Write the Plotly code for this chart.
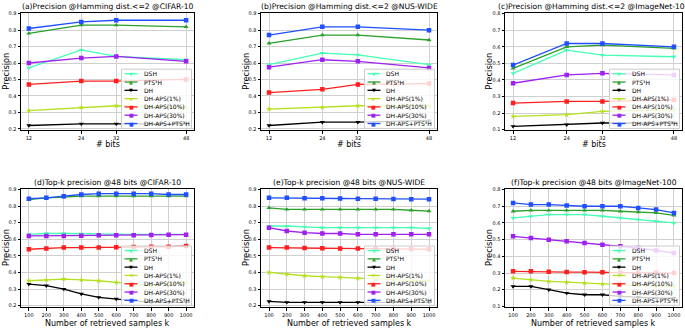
import plotly.graph_objects as go

series_names = ["DSH", "PTS³H", "DH", "DH-APS(1%)", "DH-APS(10%)", "DH-APS(30%)", "DH-APS+PTS³H"]
bits = [12, 24, 32, 48]
topk = [100, 200, 300, 400, 500, 600, 700, 800, 900, 1000]

# (a) CIFAR-10, Hamming dist <= 2
a_dsh = [0.57, 0.68, 0.64, 0.62]
a_pts = [0.78, 0.83, 0.83, 0.82]
a_dh = [0.22, 0.23, 0.23, 0.23]
a_aps1 = [0.31, 0.33, 0.34, 0.33]
a_aps10 = [0.47, 0.49, 0.49, 0.50]
a_aps30 = [0.60, 0.63, 0.64, 0.61]
a_apspts = [0.81, 0.85, 0.86, 0.86]

# (b) NUS-WIDE
b_dsh = [0.59, 0.66, 0.65, 0.59]
b_pts = [0.72, 0.77, 0.77, 0.74]
b_dh = [0.22, 0.24, 0.24, 0.25]
b_aps1 = [0.32, 0.33, 0.34, 0.34]
b_aps10 = [0.42, 0.44, 0.47, 0.475]
b_aps30 = [0.575, 0.62, 0.61, 0.57]
b_apspts = [0.77, 0.82, 0.82, 0.80]

# (c) ImageNet-100
c_dsh = [0.44, 0.58, 0.55, 0.54]
c_pts = [0.47, 0.60, 0.61, 0.59]
c_dh = [0.12, 0.13, 0.14, 0.14]
c_aps1 = [0.18, 0.19, 0.21, 0.22]
c_aps10 = [0.26, 0.27, 0.27, 0.28]
c_aps30 = [0.38, 0.43, 0.44, 0.43]
c_apspts = [0.49, 0.62, 0.62, 0.60]

# (d) Top-k CIFAR-10
d_dsh = [0.63, 0.635, 0.635, 0.633, 0.63, 0.63, 0.63, 0.63, 0.63, 0.63]
d_pts = [0.84, 0.85, 0.855, 0.86, 0.86, 0.86, 0.86, 0.86, 0.86, 0.86]
d_dh = [0.33, 0.32, 0.30, 0.27, 0.25, 0.24, 0.23, 0.22, 0.22, 0.22]
d_aps1 = [0.35, 0.355, 0.36, 0.355, 0.35, 0.34, 0.33, 0.32, 0.33, 0.34]
d_aps10 = [0.54, 0.545, 0.55, 0.55, 0.55, 0.552, 0.553, 0.555, 0.555, 0.56]
d_aps30 = [0.62, 0.62, 0.62, 0.622, 0.624, 0.625, 0.625, 0.626, 0.627, 0.628]
d_apspts = [0.845, 0.85, 0.86, 0.87, 0.875, 0.875, 0.875, 0.875, 0.87, 0.87]

# (e) Top-k NUS-WIDE
e_dsh = [0.68, 0.68, 0.675, 0.67, 0.67, 0.67, 0.67, 0.67, 0.67, 0.665]
e_pts = [0.79, 0.78, 0.78, 0.78, 0.78, 0.78, 0.78, 0.78, 0.775, 0.77]
e_dh = [0.225, 0.22, 0.22, 0.22, 0.22, 0.22, 0.22, 0.22, 0.22, 0.22]
e_aps1 = [0.40, 0.39, 0.38, 0.375, 0.37, 0.365, 0.36, 0.355, 0.352, 0.35]
e_aps10 = [0.55, 0.55, 0.548, 0.546, 0.545, 0.545, 0.543, 0.542, 0.541, 0.54]
e_aps30 = [0.67, 0.65, 0.64, 0.635, 0.635, 0.63, 0.63, 0.63, 0.63, 0.63]
e_apspts = [0.85, 0.85, 0.848, 0.847, 0.846, 0.845, 0.844, 0.843, 0.842, 0.842]

# (f) Top-k ImageNet-100
f_dsh = [0.63, 0.64, 0.65, 0.65, 0.65, 0.64, 0.63, 0.62, 0.61, 0.60]
f_pts = [0.67, 0.675, 0.675, 0.675, 0.675, 0.675, 0.67, 0.665, 0.66, 0.645]
f_dh = [0.22, 0.22, 0.20, 0.18, 0.17, 0.17, 0.16, 0.155, 0.15, 0.15]
f_aps1 = [0.27, 0.26, 0.25, 0.245, 0.24, 0.235, 0.23, 0.225, 0.22, 0.22]
f_aps10 = [0.31, 0.31, 0.308, 0.306, 0.305, 0.304, 0.303, 0.302, 0.301, 0.30]
f_aps30 = [0.52, 0.51, 0.50, 0.49, 0.48, 0.47, 0.46, 0.45, 0.435, 0.42]
f_apspts = [0.72, 0.71, 0.71, 0.705, 0.70, 0.70, 0.70, 0.69, 0.68, 0.66]

titles = [
    "(a)Precision @Hamming dist.<=2 @CIFAR-10",
    "(b)Precision @Hamming dist.<=2 @NUS-WIDE",
    "(c)Precision @Hamming dist.<=2 @ImageNet-100",
    "(d)Top-k precision @48 bits @CIFAR-10",
    "(e)Top-k precision @48 bits @NUS-WIDE",
    "(f)Top-k precision @48 bits @ImageNet-100",
]

panels = [
    (bits, [a_dsh, a_pts, a_dh, a_aps1, a_aps10, a_aps30, a_apspts]),
    (bits, [b_dsh, b_pts, b_dh, b_aps1, b_aps10, b_aps30, b_apspts]),
    (bits, [c_dsh, c_pts, c_dh, c_aps1, c_aps10, c_aps30, c_apspts]),
    (topk, [d_dsh, d_pts, d_dh, d_aps1, d_aps10, d_aps30, d_apspts]),
    (topk, [e_dsh, e_pts, e_dh, e_aps1, e_aps10, e_aps30, e_apspts]),
    (topk, [f_dsh, f_pts, f_dh, f_aps1, f_aps10, f_aps30, f_apspts]),
]

colors = ["#44ffb4", "#2ca02c", "#000000", "#b4e01e", "#ff1f1f", "#a020f0", "#1f4fff"]
symbols = ["triangle-down", "triangle-up", "triangle-down", "star", "square", "square", "square"]
glyphs = ["▼", "▲", "▼", "★", "■", "■", "■"]

W, H = 685, 330
col_x = [(21, 194), (261, 437), (505, 682)]
row_y = [(11, 130), (189, 309)]
ylab_x = [6, 246, 489]
xlab_y = [144, 325]
FONT = "DejaVu Sans"


def px(x):
    return x / W


def py(y):
    return 1 - y / H


fig = go.Figure()
layout = dict(
    width=W, height=H, margin=dict(l=0, r=0, t=0, b=0),
    paper_bgcolor="white", plot_bgcolor="white",
    font=dict(family=FONT, color="black"),
    showlegend=False,
)
annotations = []
shapes = []

for i, (xs, ys_list) in enumerate(panels):
    r, c = divmod(i, 3)
    x0, x1 = col_x[c]
    y0, y1 = row_y[r]
    ax = "" if i == 0 else str(i + 1)
    for k, ys in enumerate(ys_list):
        fig.add_trace(go.Scatter(
            x=xs, y=ys, mode="lines+markers", name=series_names[k],
            line=dict(color=colors[k], width=1.3),
            marker=dict(symbol=symbols[k], size=4.5, color=colors[k]),
            xaxis="x" + ax, yaxis="y" + ax,
        ))
    if r == 0:
        xr = [10.2, 49.8]
        tv = bits
        xlabel = "# bits"
    else:
        xr = [55, 1045]
        tv = topk
        xlabel = "Number of retrieved samples k"
    if c == 2:
        yr = [0.095, 0.805]
        ytv = [0.1, 0.2, 0.3, 0.4, 0.5, 0.6, 0.7, 0.8]
    else:
        yr = [0.19, 0.905]
        ytv = [0.2, 0.3, 0.4, 0.5, 0.6, 0.7, 0.8, 0.9]
    common = dict(showline=True, linecolor="black", linewidth=1, mirror=True,
                  ticks="outside", ticklen=2.5, tickcolor="black",
                  showgrid=True, gridcolor="#d0d0d0", gridwidth=1.2,
                  zeroline=False, tickfont=dict(size=5, family=FONT))
    layout["xaxis" + ax] = dict(common, domain=[px(x0), px(x1)], range=xr,
                                tickvals=tv, anchor="y" + ax)
    layout["yaxis" + ax] = dict(common, domain=[py(y1), py(y0)], range=yr,
                                tickvals=ytv, tickformat=".1f", anchor="x" + ax)
    # axis titles
    annotations.append(dict(text=xlabel, xref="paper", yref="paper",
                            x=px((x0 + x1) / 2), y=py(xlab_y[r]), xanchor="center", yanchor="middle",
                            showarrow=False, borderpad=0, font=dict(size=8, family=FONT)))
    annotations.append(dict(text="Precision", xref="paper", yref="paper", textangle=-90,
                            x=px(ylab_x[c]), y=py((y0 + y1) / 2), xanchor="center", yanchor="middle",
                            showarrow=False, borderpad=0, font=dict(size=8.3, family=FONT)))
    # manual legend (matplotlib style)
    lb_r = x1 - 2.5
    lb_l = lb_r - 70
    lb_b = y1 - 2
    lb_t = lb_b - 60
    shapes.append(dict(type="rect", xref="paper", yref="paper", layer="above",
                       x0=px(lb_l), x1=px(lb_r), y0=py(lb_b), y1=py(lb_t),
                       fillcolor="rgba(255,255,255,0.8)",
                       line=dict(color="#cccccc", width=1)))
    for k in range(7):
        yy = lb_t + 4.6 + 8.4 * k
        shapes.append(dict(type="line", xref="paper", yref="paper", layer="above",
                           x0=px(lb_l + 3), x1=px(lb_l + 16), y0=py(yy), y1=py(yy),
                           line=dict(color=colors[k], width=1.3)))
        annotations.append(dict(text=glyphs[k], xref="paper", yref="paper",
                                x=px(lb_l + 9.5), y=py(yy), xanchor="center", yanchor="middle",
                                showarrow=False, borderpad=0,
                                font=dict(size=5, color=colors[k], family=FONT)))
        annotations.append(dict(text=series_names[k], xref="paper", yref="paper",
                                x=px(lb_l + 21), y=py(yy), xanchor="left", yanchor="middle",
                                showarrow=False, borderpad=0, font=dict(size=6, family=FONT)))
    annotations.append(dict(
        text=titles[i], xref="paper", yref="paper",
        x=px((x0 + x1) / 2), y=py(y0 - 1), xanchor="center", yanchor="bottom",
        showarrow=False, borderpad=0, font=dict(size=7.6, family=FONT),
    ))

layout["annotations"] = annotations
layout["shapes"] = shapes
fig.update_layout(**layout)
fig.write_html("out.html", config={"displayModeBar": False},
               post_script="document.body.style.margin='0px';document.body.style.padding='0px';")
